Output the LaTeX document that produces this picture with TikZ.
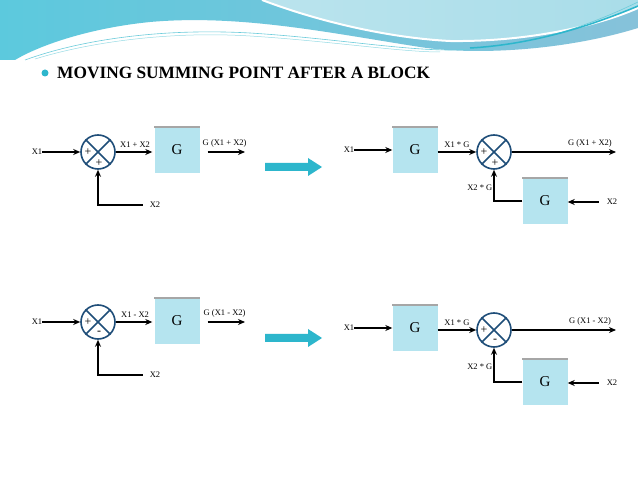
\documentclass[tikz,border=0pt]{standalone}
\usepackage{fontspec}
\setmainfont{Liberation Serif}
\usepackage{graphicx}
\usetikzlibrary{arrows.meta,calc}
\definecolor{boxblue}{HTML}{B5E4EF}
\definecolor{sumblue}{HTML}{1F4E79}
\definecolor{teal1}{HTML}{2DB6CC}
\definecolor{wave1}{HTML}{5CC9DD}
\definecolor{wave2}{HTML}{86C2DA}
\definecolor{wave3}{HTML}{A9DDE9}
\tikzset{
  lbl/.style={inner sep=0pt, font=\fontsize{8.5}{9}\selectfont},
  sumpt/.style={circle, draw=sumblue, line width=1.6pt, minimum size=34pt, inner sep=0pt},
  blk/.style={fill=boxblue, minimum width=45pt, minimum height=46pt, inner sep=0pt, font=\fontsize{15}{16}\selectfont},
  sig/.style={-{Stealth[length=7pt,width=6pt]}, line width=1.3pt},
  sgn/.style={inner sep=0pt, font=\fontsize{12}{12}\selectfont, text=black},
}
\newcommand{\crossit}[1]{%
  \draw[sumblue, line width=1.6pt] (#1.north east) -- (#1.south west);
  \draw[sumblue, line width=1.6pt] (#1.north west) -- (#1.south east);}
\newcommand{\blkshadow}[1]{%
  \draw[gray!70, line width=1.5pt] (#1.north west) -- (#1.north east);}
\begin{document}
\begin{tikzpicture}[x=1pt,y=-1pt]
\useasboundingbox (0,0) rectangle (638,478);
\fill[white] (0,0) rectangle (638,478);
% header waves
\shade[left color=wave1, right color=wave2]
  (0,0) -- (638,0) -- (638,28) .. controls (560,52) and (470,55) .. (420,47)
  .. controls (330,33) and (240,14) .. (150,22) .. controls (90,28) and (40,45) .. (15,60) -- (0,60) -- cycle;
\shade[left color=wave3!80!white, right color=wave3]
  (262,0) .. controls (320,22) and (390,38) .. (450,41) .. controls (530,42) and (600,25) .. (638,8) -- (638,0) -- cycle;
\draw[white, line width=2pt] (262,0) .. controls (320,22) and (390,38) .. (450,41) .. controls (530,42) and (600,25) .. (638,8);
\draw[teal1!70, line width=0.6pt] (25,60) .. controls (80,40) and (160,28) .. (250,33) .. controls (330,38) and (400,50) .. (450,50) .. controls (530,48) and (590,25) .. (638,2);
\draw[teal1!50, line width=0.5pt] (35,59) .. controls (90,42) and (170,31) .. (250,36) .. controls (330,41) and (400,52) .. (440,52);
\draw[teal1, line width=1.5pt] (470,48) .. controls (540,44) and (600,22) .. (638,6);
% title
\fill[teal1] (45,73) circle (3.5pt);
\node[anchor=west, inner sep=0pt] (title) at (57,73) {\resizebox{373pt}{!}{\bfseries MOVING SUMMING POINT AFTER A BLOCK}};
% ---------- top left ----------
\node[lbl] (x1a) at (37,152) {X1};
\node[sumpt] (s1) at (98,152) {};
\crossit{s1}
\node[sgn] at (88,152) {+};
\node[sgn] at (99,163) {+};
\node[blk] (g1) at (177,150) {G};
\blkshadow{g1}
\coordinate (o1) at (245,152);
\node[lbl] (x2a) at (155,205) {X2};
\draw[sig] (x1a.east) -- (s1.west);
\draw[sig, shorten >=2pt] (s1.east) -- (s1.east -| g1.west) node[lbl, midway, above=4pt] (l1) {X1 + X2};
\draw[sig, shorten <=8pt] (o1 -| g1.east) -- (o1) node[lbl, pos=0.55, above=4pt] (l2) {G (X1 + X2)};
\draw[sig] ($(x2a.west)+(-7,0)$) -| (s1.south);
% big arrow top
\fill[teal1] (265,163) -- (308,163) -- (308,158) -- (322,167) -- (308,176) -- (308,171) -- (265,171) -- cycle;
% ---------- top right ----------
\node[lbl] (x1b) at (349,150) {X1};
\node[blk] (g2) at (415,150) {G};
\blkshadow{g2}
\node[sumpt] (s2) at (494,152) {};
\crossit{s2}
\node[sgn] at (484,152) {+};
\node[sgn] at (495,163) {+};
\coordinate (o2) at (616,152);
\node[blk] (g3) at (545,201) {G};
\blkshadow{g3}
\node[lbl] (x2b) at (612,202) {X2};
\draw[sig] (x1b.east) -- (x1b.east -| g2.west);
\draw[sig] (s2.west -| g2.east) -- (s2.west) node[lbl, midway, above=4pt] (l3) {X1 * G};
\draw[sig] (s2.east) -- (o2) node[lbl, pos=0.75, above=4pt] (l4) {G (X1 + X2)};
\draw[sig] ($(x2b.west)+(-8,0)$) -- (x2b.west -| g3.east);
\draw[sig] (g3.west) -| (s2.south) node[lbl, pos=0.72, left=1pt] (l5) {X2 * G};
% ---------- bottom left ----------
\node[lbl] (x1c) at (37,322) {X1};
\node[sumpt] (s3) at (98,322) {};
\crossit{s3}
\node[sgn] at (88,322) {+};
\node[sgn] at (99,333) {-};
\node[blk] (g4) at (177,321) {G};
\blkshadow{g4}
\coordinate (o3) at (245,322);
\node[lbl] (x2c) at (155,375) {X2};
\draw[sig] (x1c.east) -- (s3.west);
\draw[sig, shorten >=2pt] (s3.east) -- (s3.east -| g4.west) node[lbl, midway, above=4pt] (l6) {X1 - X2};
\draw[sig, shorten <=8pt] (o3 -| g4.east) -- (o3) node[lbl, pos=0.55, above=4pt] (l7) {G (X1 - X2)};
\draw[sig] ($(x2c.west)+(-7,0)$) -| (s3.south);
% big arrow bottom
\fill[teal1] (265,334) -- (308,334) -- (308,329) -- (322,338) -- (308,347) -- (308,342) -- (265,342) -- cycle;
% ---------- bottom right ----------
\node[lbl] (x1d) at (349,328) {X1};
\node[blk] (g5) at (415,328) {G};
\blkshadow{g5}
\node[sumpt] (s4) at (494,330) {};
\crossit{s4}
\node[sgn] at (484,330) {+};
\node[sgn] at (495,341) {-};
\coordinate (o4) at (616,330);
\node[blk] (g6) at (545,382) {G};
\blkshadow{g6}
\node[lbl] (x2d) at (612,383) {X2};
\draw[sig] (x1d.east) -- (x1d.east -| g5.west);
\draw[sig] (s4.west -| g5.east) -- (s4.west) node[lbl, midway, above=4pt] (l8) {X1 * G};
\draw[sig] (s4.east) -- (o4) node[lbl, pos=0.75, above=4pt] (l9) {G (X1 - X2)};
\draw[sig] ($(x2d.west)+(-8,0)$) -- (x2d.west -| g6.east);
\draw[sig] (g6.west) -| (s4.south) node[lbl, pos=0.72, left=1pt] (l10) {X2 * G};
\end{tikzpicture}
\end{document}
